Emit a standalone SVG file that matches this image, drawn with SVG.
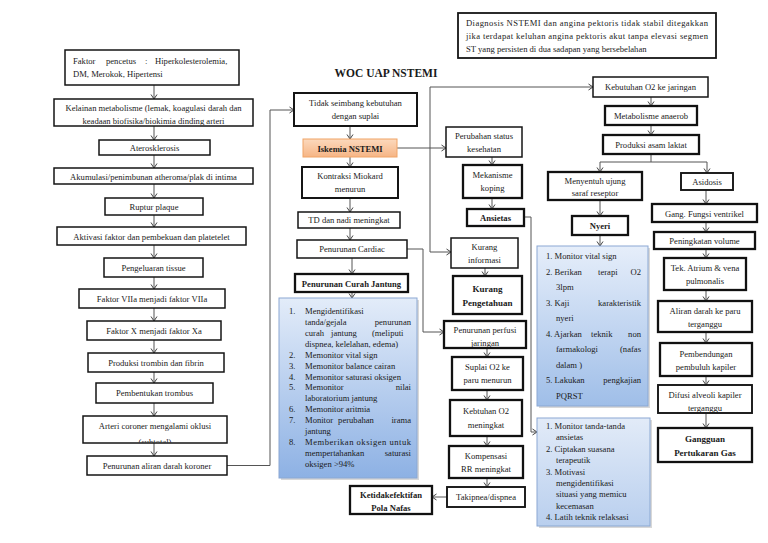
<svg xmlns="http://www.w3.org/2000/svg" width="768" height="543" viewBox="0 0 768 543">
<defs>
<style>
.bx{fill:#fff;stroke:#151515;stroke-width:1.5}
.bb{fill:#fff;stroke:#111;stroke-width:2.3}
.t{font-family:"Liberation Serif","Times New Roman",serif;font-size:8.6px;fill:#1a1a1a;text-anchor:middle}
.s{text-anchor:start}
.e{text-anchor:end}
.b{font-weight:bold}
.c{fill:none;stroke:#555;stroke-width:1}
.a{fill:none;stroke:#555;stroke-width:1;marker-end:url(#arr)}
.blue{stroke:#8ba8d3;stroke-width:1}
.sh{fill:#b8b8b8;opacity:0.55}
</style>
<marker id="arr" markerUnits="userSpaceOnUse" markerWidth="8" markerHeight="8" refX="6" refY="4" orient="auto">
<path d="M1.5,1 L6,4 L1.5,7" fill="none" stroke="#444" stroke-width="1"/>
</marker>
<linearGradient id="gb1" x1="0" y1="0" x2="0" y2="1">
<stop offset="0" stop-color="#e3ecf9"/><stop offset="1" stop-color="#8db1e4"/>
</linearGradient>
<linearGradient id="gb2" x1="0" y1="0" x2="0" y2="1">
<stop offset="0" stop-color="#e6eefa"/><stop offset="1" stop-color="#9fbee8"/>
</linearGradient>
<linearGradient id="gb3" x1="0" y1="0" x2="0" y2="1">
<stop offset="0" stop-color="#e2ebf8"/><stop offset="1" stop-color="#b9cfee"/>
</linearGradient>
<linearGradient id="go" x1="0" y1="0" x2="0" y2="1">
<stop offset="0" stop-color="#fcd9bd"/><stop offset="1" stop-color="#f6b585"/>
</linearGradient>
<clipPath id="cp2"><rect x="54" y="99" width="199" height="26.2"/></clipPath>
<clipPath id="cp12"><rect x="83" y="416" width="144" height="26.5"/></clipPath>
<clipPath id="cpr6"><rect x="444" y="321" width="82" height="26.5"/></clipPath>
<clipPath id="cpk13"><rect x="658" y="385" width="94" height="27.5"/></clipPath>
</defs>
<rect width="768" height="543" fill="#fff"/>

<g id="connectors">
<path class="a" d="M154,85 V99"/>
<path class="a" d="M154,126 V140"/>
<path class="a" d="M154,155 V168"/>
<path class="a" d="M154,184 V198"/>
<path class="a" d="M154,215 V227"/>
<path class="a" d="M154,245 V258"/>
<path class="a" d="M154,277 V289"/>
<path class="a" d="M154,308 V321"/>
<path class="a" d="M154,340 V353"/>
<path class="a" d="M154,372 V383"/>
<path class="a" d="M154,403 V416"/>
<path class="a" d="M154,443 V456"/>
<path class="a" d="M227,465.5 H270 V110 H294"/>
<path class="a" d="M350,126 V139"/>
<path class="a" d="M350,157 V167"/>
<path class="a" d="M350,198 V212"/>
<path class="a" d="M350,228 V240"/>
<path class="a" d="M352,258 V274"/>
<path class="a" d="M352,292 V298"/>
<path class="a" d="M397,148 H446"/>
<path class="a" d="M430,148 V87 H593"/>
<path class="a" d="M430,148 V252 H451"/>
<path class="a" d="M407,249 H423 V332 H444"/>
<path class="a" d="M492,157 V165"/>
<path class="a" d="M492,198 V209"/>
<path class="a" d="M485,268 V276"/>
<path class="a" d="M524,217 H531 V432 H537"/>
<path class="a" d="M487,348 V357"/>
<path class="a" d="M487,390 V400"/>
<path class="a" d="M487,436 V446"/>
<path class="a" d="M487,478 V487"/>
<path class="a" d="M447,497 H432"/>
<path class="a" d="M651,97 V106"/>
<path class="a" d="M651,125 V135"/>
<path class="c" d="M651,154 V162 M600,162 H707"/>
<path class="a" d="M600,162 V172"/>
<path class="a" d="M707,162 V173"/>
<path class="a" d="M600,200 V216"/>
<path class="a" d="M600,235 V246"/>
<path class="a" d="M706,190 V204"/>
<path class="a" d="M706,222 V232"/>
<path class="a" d="M706,249 V258"/>
<path class="a" d="M706,290 V301"/>
<path class="a" d="M706,332 V343"/>
<path class="a" d="M706,376 V385"/>
<path class="a" d="M706,413 V428"/>
</g>

<g id="faktor-pencetus"><rect class="bx" x="65" y="50" width="174" height="35"/>
<text class="t s" y="64"><tspan x="73">Faktor</tspan><tspan x="106">pencetus</tspan><tspan x="145">:</tspan><tspan x="155">Hiperkolesterolemia,</tspan></text>
<text class="t s" x="73" y="77">DM, Merokok, Hipertensi</text></g>
<g id="kelainan"><rect class="bx" x="54" y="99" width="199" height="27"/>
<g clip-path="url(#cp2)"><text class="t" x="153.5" y="111">Kelainan metabolisme (lemak, koagulasi darah dan</text>
<text class="t" x="153.5" y="124">keadaan biofisika/biokimia dinding arteri</text></g></g>
<g id="aterosklerosis"><rect class="bx" x="99" y="140" width="111" height="15"/><text class="t" x="154.5" y="151">Aterosklerosis</text></g>
<g id="akumulasi"><rect class="bx" x="54" y="168" width="199" height="16"/><text class="t" x="153.5" y="179.5">Akumulasi/penimbunan atheroma/plak di intima</text></g>
<g id="ruptur"><rect class="bx" x="105" y="198" width="98" height="17"/><text class="t" x="154" y="209.5">Ruptur plaque</text></g>
<g id="aktivasi"><rect class="bx" x="57" y="227" width="189" height="18"/><text class="t" x="151.5" y="239.5">Aktivasi faktor dan pembekuan dan platetelet</text></g>
<g id="pengeluaran"><rect class="bx" x="104" y="258" width="99" height="19"/><text class="t" x="153.5" y="270.5">Pengeluaran tissue</text></g>
<g id="faktor-viia"><rect class="bx" x="79" y="289" width="146" height="19"/><text class="t" x="152" y="301.5">Faktor VIIa menjadi faktor VIIa</text></g>
<g id="faktor-xa"><rect class="bx" x="87" y="321" width="134" height="19"/><text class="t" x="154" y="333.5">Faktor X menjadi faktor Xa</text></g>
<g id="trombin"><rect class="bx" x="88" y="353" width="136" height="19"/><text class="t" x="156" y="365.5">Produksi trombin dan fibrin</text></g>
<g id="trombus"><rect class="bx" x="96" y="383" width="117" height="20"/><text class="t" x="154.5" y="396">Pembentukan trombus</text></g>
<g id="arteri"><rect class="bx" x="83" y="416" width="144" height="27"/>
<g clip-path="url(#cp12)"><text class="t" x="155" y="428.5">Arteri coroner mengalami oklusi</text><text class="t" x="155" y="444.5">(subtotal)</text></g></g>
<g id="aliran-koroner"><rect class="bx" x="87" y="456" width="140" height="19"/><text class="t" x="157" y="468.5">Penurunan aliran darah koroner</text></g>

<g id="title"><text class="t b" x="386" y="77" style="font-size:11.5px">WOC UAP NSTEMI</text></g>
<g id="tidak-seimbang"><rect class="bx" x="294" y="93" width="123" height="33" style="stroke-width:2"/>
<text class="t" x="355.5" y="106">Tidak seimbang kebutuhan</text><text class="t" x="355.5" y="119">dengan suplai</text></g>
<g id="iskemia"><rect x="303" y="139" width="94" height="18" fill="url(#go)" stroke="#f0a467" stroke-width="1"/>
<text class="t b" x="350" y="151.5">Iskemia NSTEMI</text></g>
<g id="kontraksi"><rect class="bx" x="302" y="167" width="96" height="31" style="stroke-width:2"/>
<text class="t" x="350" y="179">Kontraksi Miokard</text><text class="t" x="350" y="192">menurun</text></g>
<g id="td-nadi"><rect class="bx" x="298" y="212" width="102" height="16"/><text class="t" x="349" y="223">TD dan nadi meningkat</text></g>
<g id="penurunan-cardiac"><rect class="bx" x="297" y="240" width="110" height="18"/><text class="t" x="352" y="252">Penurunan Cardiac</text></g>
<g id="curah-jantung"><rect class="bb" x="295" y="274" width="113" height="18"/><text class="t b" x="351.5" y="286.5">Penurunan Curah Jantung</text></g>
<g id="intervensi-curah">
<rect class="sh" x="281" y="300" width="138" height="180"/>
<rect class="blue" x="279" y="298" width="138" height="180" fill="url(#gb1)"/>
<text class="t s" x="289" y="314">1.</text><text class="t s" x="305" y="314">Mengidentifikasi</text>
<text class="t s" x="305" y="325">tanda/gejala</text><text class="t e" x="411" y="325">penurunan</text>
<text class="t s" y="336"><tspan x="305">curah</tspan><tspan x="331">jantung</tspan><tspan x="372">(meliputi</tspan></text>
<text class="t s" x="305" y="347">dispnea, kelelahan, edema)</text>
<text class="t s" x="289" y="358">2.</text><text class="t s" x="305" y="358">Memonitor vital sign</text>
<text class="t s" x="289" y="368.5">3.</text><text class="t s" x="305" y="368.5">Memonitor balance cairan</text>
<text class="t s" x="289" y="379.5">4.</text><text class="t s" x="305" y="379.5">Memonitor saturasi oksigen</text>
<text class="t s" x="289" y="390">5.</text><text class="t s" x="305" y="390">Memonitor</text><text class="t e" x="411" y="390">nilai</text>
<text class="t s" x="305" y="401">laboratorium jantung</text>
<text class="t s" x="289" y="412">6.</text><text class="t s" x="305" y="412">Memonitor aritmia</text>
<text class="t s" x="289" y="423">7.</text><text class="t s" x="305" y="423">Monitor</text><text class="t" x="356" y="423">perubahan</text><text class="t e" x="411" y="423">irama</text>
<text class="t s" x="305" y="434">jantung</text>
<text class="t s" x="289" y="445">8.</text><text class="t s" x="305" y="445" textLength="106" lengthAdjust="spacing">Memberikan oksigen untuk</text>
<text class="t s" x="305" y="456">mempertahankan</text><text class="t e" x="411" y="456">saturasi</text>
<text class="t s" x="305" y="467">oksigen &gt;94%</text>
</g>

<g id="perubahan-status"><rect class="bx" x="446" y="127" width="76" height="30"/>
<text class="t" x="484" y="139">Perubahan status</text><text class="t" x="484" y="151.5">kesehatan</text></g>
<g id="mekanisme-koping"><rect class="bb" x="463" y="165" width="59" height="33"/>
<text class="t" x="492.5" y="178">Mekanisme</text><text class="t" x="492.5" y="191">koping</text></g>
<g id="ansietas"><rect class="bb" x="467" y="209" width="57" height="17"/><text class="t b" x="495.5" y="221">Ansietas</text></g>
<g id="kurang-informasi"><rect class="bx" x="451" y="238" width="67" height="30"/>
<text class="t" x="484.5" y="250">Kurang</text><text class="t" x="484.5" y="263">informasi</text></g>
<g id="kurang-pengetahuan"><rect class="bb" x="453" y="276" width="69" height="38"/>
<text class="t b" x="487.5" y="292" style="font-size:9px">Kurang</text><text class="t b" x="487.5" y="306" style="font-size:9px">Pengetahuan</text></g>
<g id="penurunan-perfusi"><rect class="bb" x="444" y="321" width="82" height="27"/>
<g clip-path="url(#cpr6)"><text class="t" x="485" y="333">Penurunan perfusi</text><text class="t" x="485" y="346">jaringan</text></g></g>
<g id="suplai-o2"><rect class="bb" x="452" y="357" width="71" height="33"/>
<text class="t" x="487.5" y="370">Suplai O2 ke</text><text class="t" x="487.5" y="383">paru menurun</text></g>
<g id="kebtuhan-o2"><rect class="bb" x="450" y="400" width="72" height="36"/>
<text class="t" x="486" y="414">Kebtuhan O2</text><text class="t" x="486" y="428">meningkat</text></g>
<g id="kompensasi"><rect class="bb" x="449" y="446" width="74" height="32"/>
<text class="t" x="486" y="459">Kompensasi</text><text class="t" x="486" y="472">RR meningkat</text></g>
<g id="takipnea"><rect class="bx" x="447" y="487" width="78" height="20" style="stroke-width:1.9"/><text class="t" x="486" y="500">Takipnea/dispnea</text></g>
<g id="ketidakefektifan"><rect class="bb" x="350" y="486" width="82" height="28"/>
<text class="t b" x="391" y="498">Ketidakefektifan</text><text class="t b" x="391" y="510.5">Pola Nafas</text></g>

<g id="diagnosis"><rect class="bx" x="458" y="13" width="258" height="45" style="stroke-width:1.8"/>
<text class="t s" x="466" y="26" textLength="242" lengthAdjust="spacing">Diagnosis NSTEMI dan angina pektoris tidak stabil ditegakkan</text>
<text class="t s" x="466" y="39" textLength="242" lengthAdjust="spacing">jika terdapat keluhan angina pektoris akut tanpa elevasi segmen</text>
<text class="t s" x="466" y="52">ST yang persisten di dua sadapan yang bersebelahan</text></g>
<g id="kebutuhan-o2-jaringan"><rect class="bx" x="593" y="77" width="115" height="20"/><text class="t" x="650.5" y="90">Kebutuhan O2 ke jaringan</text></g>
<g id="metabolisme-anaerob"><rect class="bb" x="605" y="106" width="92" height="19"/><text class="t" x="651" y="118.5">Metabolisme anaerob</text></g>
<g id="asam-laktat"><rect class="bb" x="603" y="135" width="96" height="19"/><text class="t" x="651" y="147.5">Produksi asam laktat</text></g>
<g id="menyentuh"><rect class="bb" x="548" y="172" width="94" height="28"/>
<text class="t" x="595" y="184">Menyentuh ujung</text><text class="t" x="595" y="196">saraf reseptor</text></g>
<g id="nyeri"><rect class="bb" x="572" y="216" width="56" height="19"/><text class="t b" x="600" y="228.5">Nyeri</text></g>
<g id="intervensi-nyeri">
<rect class="sh" x="539" y="248" width="111" height="160"/>
<rect class="blue" x="537" y="246" width="111" height="160" fill="url(#gb2)"/>
<text class="t s" x="546" y="259">1. Monitor vital sign</text>
<text class="t s" x="546" y="274.5">2. Berikan</text><text class="t s" x="598" y="274.5">terapi</text><text class="t e" x="641" y="274.5">O2</text>
<text class="t s" x="556" y="290">3lpm</text>
<text class="t s" x="546" y="305.5">3. Kaji</text><text class="t e" x="641" y="305.5">karakteristik</text>
<text class="t s" x="556" y="321">nyeri</text>
<text class="t s" x="546" y="336.5">4. Ajarkan</text><text class="t s" x="591" y="336.5">teknik</text><text class="t e" x="641" y="336.5">non</text>
<text class="t s" x="556" y="352">farmakologi</text><text class="t e" x="641" y="352">(nafas</text>
<text class="t s" x="556" y="367.5">dalam )</text>
<text class="t s" x="546" y="383">5. Lakukan</text><text class="t e" x="641" y="383">pengkajian</text>
<text class="t s" x="556" y="398.5">PQRST</text>
</g>
<g id="intervensi-ansietas">
<rect class="sh" x="539" y="420" width="113" height="108"/>
<rect class="blue" x="537" y="418" width="113" height="108" fill="url(#gb3)"/>
<text class="t s" x="546" y="429">1. Monitor tanda-tanda</text>
<text class="t s" x="556" y="440.4">ansietas</text>
<text class="t s" x="546" y="451.8">2. Ciptakan suasana</text>
<text class="t s" x="556" y="463.2">terapeutik</text>
<text class="t s" x="546" y="474.6">3. Motivasi</text>
<text class="t s" x="556" y="486">mengidentifikasi</text>
<text class="t s" x="556" y="497.4">situasi yang memicu</text>
<text class="t s" x="556" y="508.8">kecemasan</text>
<text class="t s" x="546" y="520.2">4. Latih teknik relaksasi</text>
</g>
<g id="asidosis"><rect class="bx" x="681" y="173" width="52" height="17" style="stroke-width:1.9"/><text class="t" x="707" y="185">Asidosis</text></g>
<g id="gang-fungsi"><rect class="bb" x="652" y="204" width="105" height="18"/><text class="t" x="704.5" y="216.5">Gang. Fungsi ventrikel</text></g>
<g id="peningkatan-volume"><rect class="bb" x="654" y="232" width="101" height="17"/><text class="t" x="704.5" y="244">Peningkatan volume</text></g>
<g id="tek-atrium"><rect class="bb" x="664" y="258" width="82" height="32"/>
<text class="t" x="705" y="271">Tek. Atrium &amp; vena</text><text class="t" x="705" y="284">pulmonalis</text></g>
<g id="aliran-paru"><rect class="bb" x="658" y="301" width="94" height="31"/>
<text class="t" x="705" y="314">Aliran darah ke paru</text><text class="t" x="705" y="327">terganggu</text></g>
<g id="pembendungan"><rect class="bb" x="660" y="343" width="92" height="33"/>
<text class="t" x="706" y="357">Pembendungan</text><text class="t" x="706" y="370">pembuluh kapiler</text></g>
<g id="difusi"><rect class="bx" x="658" y="385" width="94" height="28" style="stroke-width:1.9"/>
<g clip-path="url(#cpk13)"><text class="t" x="705" y="397.5">Difusi alveoli kapiler</text><text class="t" x="705" y="410.5">terganggu</text></g></g>
<g id="gangguan-gas"><rect class="bb" x="658" y="428" width="94" height="34"/>
<text class="t b" x="705" y="442" style="font-size:9px">Gangguan</text><text class="t b" x="705" y="456" style="font-size:9px">Pertukaran Gas</text></g>
</svg>
